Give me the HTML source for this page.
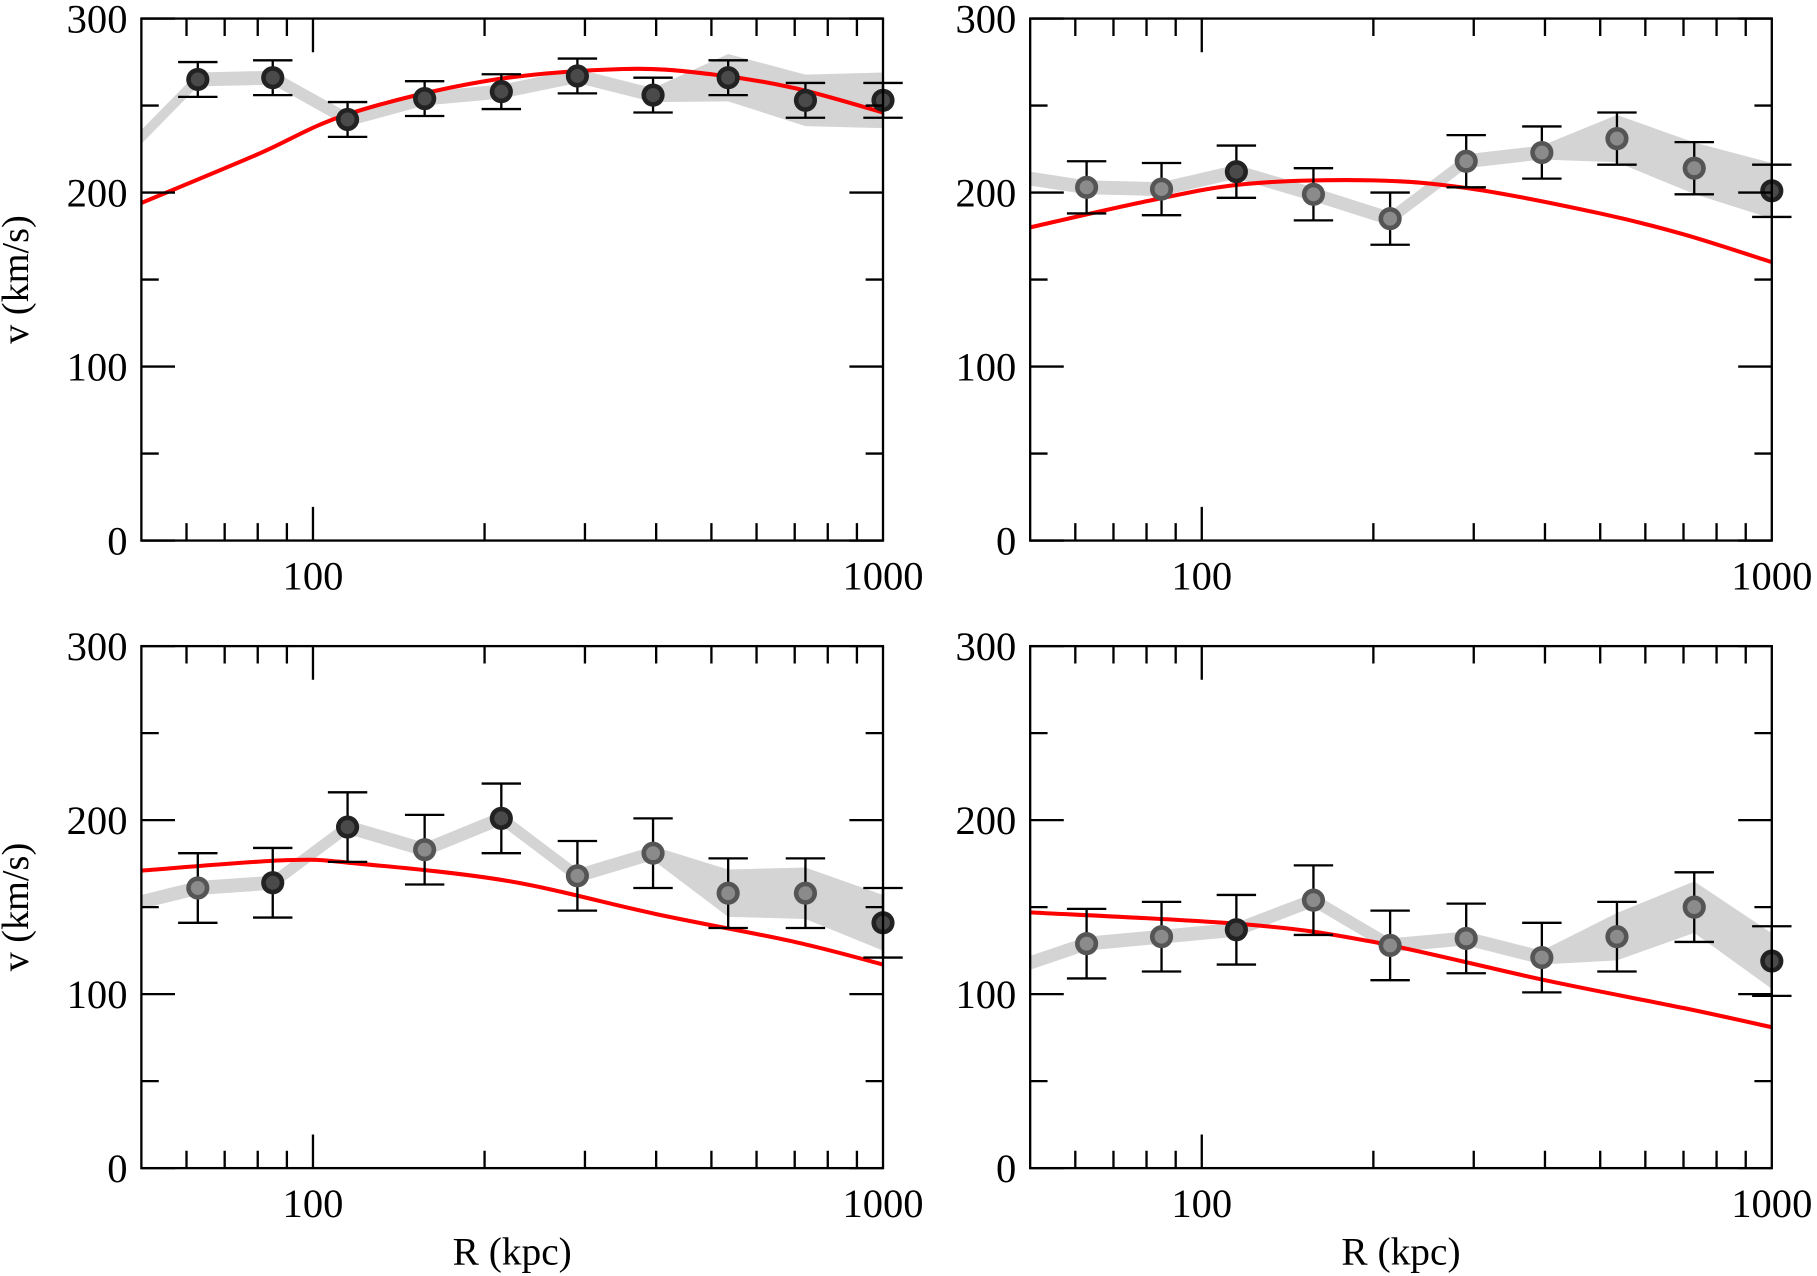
<!DOCTYPE html>
<html><head><style>html,body{margin:0;padding:0;background:#fff;}svg{display:block}</style></head>
<body>
<svg id="s" width="1817" height="1276" viewBox="0 0 1568 1100" preserveAspectRatio="none" xmlns="http://www.w3.org/2000/svg" font-family="Liberation Serif, serif">
<text x="24" y="241" font-size="33" text-anchor="middle" transform="rotate(-90 24 241)">v (km/s)</text>
<text x="24" y="782" font-size="33" text-anchor="middle" transform="rotate(-90 24 782)">v (km/s)</text>
<text x="442" y="1090" font-size="34" text-anchor="middle">R (kpc)</text>
<text x="1209" y="1090" font-size="34" text-anchor="middle">R (kpc)</text>
</svg>
<script>
var S=document.getElementById('s'),NS='http://www.w3.org/2000/svg',out='';
function add(h){out+=h;}
var xs=[62.8,85,115,157,214,291,395,535,731,1000];
var panels=[
{x0:122,y0:16,v:[265,266,242,254,258,267,256,266,253,253],e:10,b0:232,
 red:[[50,194],[80,222],[115,245],[200,264],[350,271],[500,268],[700,260],[1000,246]]},
{x0:889,y0:16,v:[203,202,212,199,185,218,223,231,214,201],e:15,b0:208,
 red:[[50,180],[80,195],[120,205],[200,207],[300,202],[500,188],[700,176],[1000,160]]},
{x0:122,y0:557,v:[161,164,196,183,201,168,181,158,158,141],e:20,b0:153,
 red:[[50,171],[90,177],[120,175],[220,165],[400,146],[700,130],[1000,117]]},
{x0:889,y0:557,v:[129,133,137,154,128,132,121,133,150,119],e:20,b0:118,
 red:[[50,147],[120,140],[200,130],[400,108],[700,92],[1000,81]]}];
var W=640,H=450,dec=W/Math.log10(20);
panels.forEach(function(p,i){
 function X(r){return p.x0+(Math.log10(r)-Math.log10(50))*dec;}
 function Y(v){return p.y0+H-v*1.5;}
 var pts=[[p.x0,p.b0]].concat(xs.map(function(r,k){return [X(r),p.v[k]];}));
 var up=[],dn=[];
 pts.forEach(function(q,k){var w=4+(k>7?k*1.2:0);up.push(q[0]+','+Y(q[1]+w));dn.unshift(q[0]+','+Y(q[1]-w));});
 add('<polygon points="'+up.concat(dn).join(' ')+'" fill="#d4d4d4"/>');
 // smooth red via catmull-rom
 var R=p.red.map(function(q){return [X(q[0]),Y(q[1])];});
 var d='M'+R[0][0]+' '+R[0][1];
 for(var k=0;k<R.length-1;k++){var a=R[Math.max(k-1,0)],b=R[k],c=R[k+1],e=R[Math.min(k+2,R.length-1)];
  d+='C'+(b[0]+(c[0]-a[0])/6)+' '+(b[1]+(c[1]-a[1])/6)+' '+(c[0]-(e[0]-b[0])/6)+' '+(c[1]-(e[1]-b[1])/6)+' '+c[0]+' '+c[1];}
 add('<path d="'+d+'" fill="none" stroke="#f00" stroke-width="3.5"/>');
 xs.forEach(function(r,k){var x=X(r),y=Y(p.v[k]),t=Y(p.v[k]+p.e),b=Y(p.v[k]-p.e);
  add('<path d="M'+x+' '+t+'V'+b+'M'+(x-17)+' '+t+'h34M'+(x-17)+' '+b+'h34" stroke="#000" stroke-width="2" fill="none"/>');
  var dark=(i==0||k==2||k==9||(i==2&&(k==1||k==4)));
  add('<circle cx="'+x+'" cy="'+y+'" r="10" fill="'+(dark?'#222':'#555')+'"/>');
  add('<circle cx="'+x+'" cy="'+y+'" r="6" fill="'+(dark?'#555':'#999')+'" opacity="0.8"/>');
 });
 add('<rect x="'+p.x0+'" y="'+p.y0+'" width="'+W+'" height="'+H+'" fill="none" stroke="#000" stroke-width="2"/>');
 var tk='';
 for(var v=0;v<=300;v+=50){var y=Y(v),l=(v%100==0)?29:15;
  tk+='M'+p.x0+' '+y+'h'+l+'M'+(p.x0+W)+' '+y+'h-'+l;
  if(v%100==0) add('<text x="'+(p.x0-12)+'" y="'+(y+12)+'" font-size="35" text-anchor="end">'+v+'</text>');}
 [60,70,80,90,100,200,300,400,500,600,700,800,900].forEach(function(r){var x=X(r),l=(r==100)?29:15;
  tk+='M'+x+' '+(p.y0+H)+'v-'+l+'M'+x+' '+p.y0+'v'+l;});
 add('<path d="'+tk+'" stroke="#000" stroke-width="2"/>');
 add('<text x="'+X(100)+'" y="'+(p.y0+H+42)+'" font-size="35" text-anchor="middle">100</text>');
 add('<text x="'+X(1000)+'" y="'+(p.y0+H+42)+'" font-size="35" text-anchor="middle">1000</text>');
});
S.insertAdjacentHTML('beforeend',out);
</script>
</body></html>
